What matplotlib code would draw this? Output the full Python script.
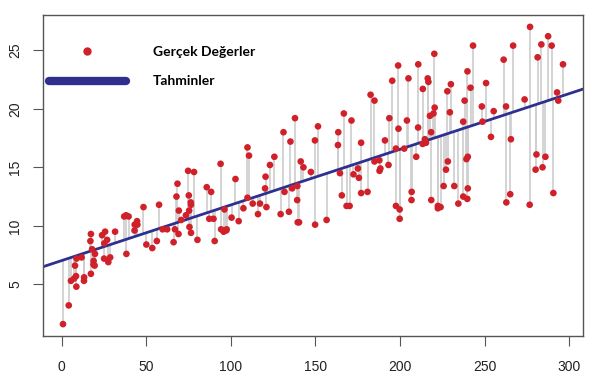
import numpy as np
import matplotlib
matplotlib.use("Agg")
import matplotlib.pyplot as plt

tv = [230.1, 44.5, 17.2, 151.5, 180.8, 8.7, 57.5, 120.2, 8.6, 199.8,
      66.1, 214.7, 23.8, 97.5, 204.1, 195.4, 67.8, 281.4, 69.2, 147.3,
      218.4, 237.4, 13.2, 228.3, 62.3, 262.9, 142.9, 240.1, 248.8, 70.6,
      292.9, 112.9, 97.2, 265.6, 95.7, 290.7, 266.9, 74.7, 43.1, 228.0,
      202.5, 177.0, 293.6, 206.9, 25.1, 175.1, 89.7, 239.9, 227.2, 66.9,
      199.8, 100.4, 216.4, 182.6, 262.7, 198.9, 7.3, 136.2, 210.8, 210.7,
      53.5, 261.3, 239.3, 102.7, 131.1, 69.0, 31.5, 139.3, 237.4, 216.8,
      199.1, 109.8, 26.8, 129.4, 213.4, 16.9, 27.5, 120.5, 5.4, 116.0,
      76.4, 239.8, 75.3, 68.4, 213.5, 193.2, 76.3, 110.7, 88.3, 109.8,
      134.3, 28.6, 217.7, 250.9, 107.4, 163.3, 197.6, 184.9, 289.7, 135.2,
      222.4, 296.4, 280.2, 187.9, 238.2, 137.9, 25.0, 90.4, 13.1, 255.4,
      225.8, 241.7, 175.7, 209.6, 78.2, 75.1, 139.2, 76.4, 125.7, 19.4,
      141.3, 18.8, 224.0, 123.1, 229.5, 87.2, 7.8, 80.2, 220.3, 59.6,
      0.7, 265.2, 8.4, 219.8, 36.9, 48.3, 25.6, 273.7, 43.0, 184.9,
      73.4, 193.7, 220.5, 104.6, 96.2, 140.3, 240.1, 243.2, 38.0, 44.7,
      280.7, 121.0, 197.6, 171.3, 187.8, 4.1, 93.9, 149.8, 11.7, 131.7,
      172.5, 85.7, 188.4, 163.5, 117.2, 234.5, 17.9, 206.8, 215.4, 284.3,
      50.0, 164.5, 19.6, 168.4, 222.4, 276.9, 248.4, 170.2, 276.7, 165.6,
      156.6, 218.5, 56.2, 287.6, 253.8, 205.0, 139.5, 191.1, 286.0, 18.7,
      39.5, 75.5, 17.2, 166.8, 149.7, 38.2, 94.2, 177.0, 283.6, 232.1]

sales = [22.1, 10.4, 9.3, 18.5, 12.9, 7.2, 11.8, 13.2, 4.8, 10.6,
         8.6, 17.4, 9.2, 9.7, 19.0, 22.4, 12.5, 24.4, 11.3, 14.6,
         18.0, 12.5, 5.6, 15.5, 9.7, 12.0, 15.0, 15.9, 18.9, 10.5,
         21.4, 11.9, 9.6, 17.4, 9.5, 12.8, 25.4, 14.7, 10.1, 21.5,
         16.6, 17.1, 20.7, 12.9, 8.5, 14.9, 10.6, 23.2, 14.8, 9.7,
         11.4, 10.7, 22.6, 21.2, 20.2, 23.7, 5.5, 13.2, 23.8, 18.4,
         8.1, 24.2, 15.7, 14.0, 18.0, 9.3, 9.5, 13.4, 18.9, 22.3,
         18.3, 12.4, 8.8, 11.0, 17.0, 8.7, 6.9, 14.2, 5.3, 11.0,
         11.8, 12.3, 11.3, 13.6, 21.7, 15.2, 12.0, 16.0, 12.9, 16.7,
         11.2, 7.3, 19.4, 22.2, 11.5, 16.9, 11.7, 15.5, 25.4, 17.2,
         11.7, 23.8, 14.8, 14.7, 20.7, 19.2, 7.2, 8.7, 5.3, 19.8,
         13.4, 21.8, 14.1, 15.9, 14.6, 12.6, 12.2, 9.4, 15.9, 6.6,
         15.5, 7.0, 11.6, 15.2, 19.7, 10.6, 6.6, 8.8, 24.7, 9.7,
         1.6, 12.7, 5.7, 19.6, 10.8, 11.6, 9.5, 20.8, 9.6, 20.7,
         10.9, 19.2, 20.1, 10.4, 11.4, 10.3, 13.2, 25.4, 10.9, 10.1,
         16.1, 11.6, 16.6, 19.0, 15.6, 3.2, 15.3, 10.1, 7.3, 12.9,
         14.4, 13.3, 14.9, 18.0, 11.9, 11.9, 8.0, 12.2, 17.1, 15.0,
         8.4, 14.5, 7.6, 11.7, 11.5, 27.0, 20.2, 11.7, 11.8, 12.6,
         10.5, 12.2, 8.7, 26.2, 17.6, 22.6, 10.3, 17.3, 15.9, 6.7,
         10.8, 9.9, 5.9, 19.6, 17.3, 7.6, 9.7, 12.8, 25.5, 13.4]

x_ticks = [0, 50, 100, 150, 200, 250, 300]
y_ticks = [5, 10, 15, 20, 25]
legend_labels = ["Gerçek Değerler", "Tahminler"]

x = np.array(tv)
y = np.array(sales)
slope, intercept = np.polyfit(x, y, 1)
fitted = intercept + slope * x

red = "#D0202A"
blue = "#2E3090"

fig = plt.figure(figsize=(6.06, 3.90), dpi=100)
ax = fig.add_axes([43/606, 1 - 336/390, (583-43)/606, (336-15)/390])

xspan = x.max() - x.min()
yspan = y.max() - y.min()
ax.set_xlim(x.min() - 0.04 * xspan, x.max() + 0.04 * xspan)
ax.set_ylim(y.min() - 0.04 * yspan, y.max() + 0.04 * yspan)

ax.vlines(x, np.minimum(y, fitted), np.maximum(y, fitted), color="#CDCDCD", lw=1.2, zorder=1)
ax.axline((0, intercept), slope=slope, color=blue, lw=2.0, zorder=2)
ax.scatter(x, y, s=23, color=red, edgecolors="none", zorder=3)

ax.set_xticks(x_ticks)
ax.set_yticks(y_ticks)
ax.tick_params(axis="both", length=7, width=0.8, color="#555555", labelsize=10,
               labelcolor="#222222")
ax.tick_params(axis="x", pad=10)
ax.tick_params(axis="y", pad=8)
for lab in ax.get_yticklabels():
    lab.set_rotation(90)
    lab.set_va("center")
for lab in ax.get_xticklabels() + ax.get_yticklabels():
    lab.set_family("Liberation Sans")
for sp in ax.spines.values():
    sp.set_color("#555555")
    sp.set_linewidth(1.0)

# legend (manual, no frame)
ax_leg = fig.add_axes([0, 0, 1, 1], facecolor="none")
ax_leg.set_xlim(0, 606)
ax_leg.set_ylim(390, 0)
ax_leg.axis("off")
ax_leg.plot([87], [51], "o", color=red, ms=6, mec="none")
ax_leg.plot([49, 126], [81, 81], color=blue, lw=6, solid_capstyle="round")
ax_leg.text(153, 52, legend_labels[0], fontsize=10, fontweight="bold", family="Lato",
            va="center", ha="left", color="black")
ax_leg.text(153, 81, legend_labels[1], fontsize=10, fontweight="bold", family="Lato",
            va="center", ha="left", color="black")

fig.savefig("out.png", dpi=100)
